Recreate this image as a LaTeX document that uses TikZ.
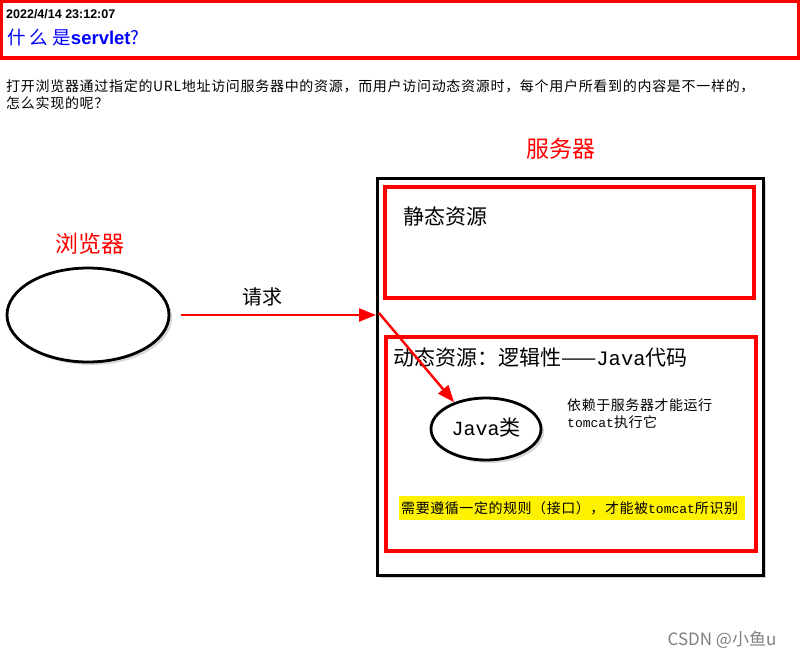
\documentclass[tikz,border=0pt]{standalone}
\usepackage{fontspec}
\setmainfont{Liberation Serif}
\newfontfamily\cjk{Noto Sans CJK SC}
\newfontfamily\cjkls{Noto Sans CJK SC}[LetterSpace=4]
\newfontfamily\cjkp{Noto Sans CJK SC}[LetterSpace=5]
\newfontfamily\lsans{Liberation Sans}
\newfontfamily\mono{Liberation Mono}
\usetikzlibrary{shadows,arrows.meta,shapes.geometric}
\begin{document}
\begin{tikzpicture}[x=1pt,y=-1pt,
  redbox/.style={draw=red,line width=3.2pt},
  redinner/.style={redbox,fill=white,drop shadow={shadow xshift=2pt,shadow yshift=-2pt,opacity=0.3}},
  blackbox/.style={draw=black,line width=3pt,fill=white,drop shadow={shadow xshift=3pt,shadow yshift=-3pt,opacity=0.35}},
  oval/.style={draw=black,line width=2.8pt,ellipse,fill=white,drop shadow={shadow xshift=3pt,shadow yshift=-3pt,opacity=0.3}},
  redarrow/.style={draw=red,line width=2.4pt,-{Triangle[length=17pt,width=13pt]}},
  txt/.style={inner sep=0pt,anchor=west,font=\cjkls\fontsize{14}{16}\selectfont},
  bigtxt/.style={inner sep=0pt,font=\cjk\fontsize{21}{24}\selectfont},
  redtitle/.style={inner sep=0pt,text=red,font=\cjk\fontsize{23}{26}\selectfont}]
\useasboundingbox (0,0) rectangle (800,660);
\fill[white] (0,0) rectangle (800,660);
% header
\draw[redbox] (1.6,1.6) rectangle (798.4,58);
\node[inner sep=0pt,anchor=west,font=\lsans\bfseries\fontsize{12.5}{14}\selectfont] (stamp) at (6,14) {2022/4/14 23:12:07};
\node[inner sep=0pt,anchor=west,text=blue,font=\fontsize{18.5}{20}\selectfont] (title) at (7,38) {{\cjk 什 么 是}{\lsans\bfseries servlet}{\cjk ?}};
% paragraph
\node[txt,font=\cjkp\fontsize{14}{16}\selectfont] (p1) at (6,86) {打开浏览器通过指定的URL地址访问服务器中的资源，而用户访问动态资源时，每个用户所看到的内容是不一样的，};
\node[txt,font=\cjkp\fontsize{14}{16}\selectfont] (p2) at (6,103) {怎么实现的呢？};
% labels
\node[redtitle] (srvlbl) at (561,149) {服务器};
\node[redtitle] (brwlbl) at (90,244) {浏览器};
% browser
\node[oval,minimum width=162pt,minimum height=94pt] (browser) at (88,315) {};
% server
\draw[blackbox] (377,179) rectangle (763,575);
\coordinate (srvedge) at (376,315);
\draw[redinner] (385,187) rectangle (754,298);
\node[bigtxt,anchor=west] (static) at (403,216) {静态资源};
\draw[redinner] (386,337) rectangle (756,551);
\node[bigtxt,anchor=west] (dyn) at (393,357) {动态资源：逻辑性——{\mono\fontsize{20.5}{24}\selectfont Java}代码};
\node[oval,minimum width=110pt,minimum height=62pt,inner sep=0pt] (jcls) at (486,429) {};
\node[bigtxt] (jtxt) at (486,428) {{\mono\fontsize{20}{24}\selectfont Java}类};
\node[txt] (dep1) at (567,405) {依赖于服务器才能运行};
\node[txt] (dep2) at (567,422) {{\mono\fontsize{13}{14}\selectfont tomcat}执行它};
\fill[yellow] (399,496) rectangle (745,520);
\node[txt] (rule) at (401,508) {需要遵循一定的规则（接口），才能被{\mono\fontsize{13}{14}\selectfont tomcat}所识别};
% arrows
\draw[redarrow] (181,315) -- node[pos=0.42,above=8pt,inner sep=0pt,font=\cjk\fontsize{20}{23}\selectfont,text=black] (req) {请求} (srvedge);
\coordinate (fork) at (379,313);
\draw[redarrow] (fork) -- (jcls.140);
% watermark
\node[inner sep=0pt,text=gray,font=\cjk\fontsize{17}{19}\selectfont] (wm) at (722,640) {CSDN @小鱼u};
\end{tikzpicture}
\end{document}
